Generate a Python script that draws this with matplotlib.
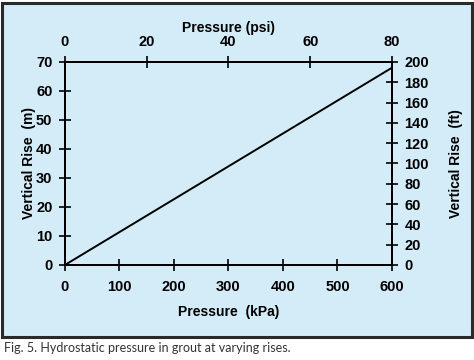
import numpy as np
import matplotlib.pyplot as plt
from matplotlib.patches import Rectangle

# データ
pressure_kpa = [0, 600]
rise_m = [0, 68]

kpa_ticks = [0, 100, 200, 300, 400, 500, 600]
m_ticks = [0, 10, 20, 30, 40, 50, 60, 70]
psi_ticks = [0, 20, 40, 60, 80]
ft_ticks = [0, 20, 40, 60, 80, 100, 120, 140, 160, 180, 200]

plt.rcParams['font.family'] = ['Liberation Sans', 'DejaVu Sans']

fig = plt.figure(figsize=(4.74, 3.6), dpi=100)
fig.patch.set_facecolor('white')

# 背景パネル（軸より後ろに描く）
panel = Rectangle((0.005, 0.065), 0.99, 0.928, transform=fig.transFigure,
                  facecolor='#d3ecf8', edgecolor='#2a2a2a', linewidth=2.2, zorder=-5)
fig.add_artist(panel)

ax = fig.add_axes([0.137, 0.264, 0.690, 0.564])
ax.patch.set_alpha(0)
ax.plot(pressure_kpa, rise_m, color='black', linewidth=1.4)

ax.set_xlim(0, 600)
ax.set_ylim(0, 70)
ax.set_xticks(kpa_ticks)
ax.set_yticks(m_ticks)

tick_kw = dict(direction='inout', length=8, width=1.2, labelsize=10.5, colors='black')
ax.tick_params(**tick_kw)
ax.tick_params(axis='x', pad=7)
ax.tick_params(axis='y', pad=5)
for lab in ax.get_xticklabels() + ax.get_yticklabels():
    lab.set_fontweight('bold')
for s in ax.spines.values():
    s.set_linewidth(1.4)

ax.set_xlabel('Pressure  (kPa)', fontsize=10, fontweight='bold', labelpad=8)
ax.set_ylabel('Vertical Rise  (m)', fontsize=10, fontweight='bold', labelpad=0)

# 上側の軸 (psi)
axt = ax.twiny()
axt.set_xlim(0, 80)
axt.set_xticks(psi_ticks)
axt.tick_params(**tick_kw)
axt.tick_params(axis='x', pad=5.5)
for lab in axt.get_xticklabels():
    lab.set_fontweight('bold')
axt.set_xlabel('Pressure (psi)', fontsize=10, fontweight='bold', labelpad=2)

# 右側の軸 (ft)
axr = ax.twinx()
axr.set_ylim(0, 200)
axr.set_yticks(ft_ticks)
axr.tick_params(**tick_kw)
axr.tick_params(axis='y', pad=5)
for lab in axr.get_yticklabels():
    lab.set_fontweight('bold')
axr.set_ylabel('Vertical Rise  (ft)', fontsize=10, fontweight='bold', labelpad=14)

for a in (axt, axr):
    a.patch.set_alpha(0)
    for s in a.spines.values():
        s.set_linewidth(1.4)

fig.text(0.008, 0.033, 'Fig. 5. Hydrostatic pressure in grout at varying rises.',
         fontsize=9, color='#333333', va='center', family=['Lato', 'DejaVu Sans'])

fig.savefig('out.png', dpi=100)
